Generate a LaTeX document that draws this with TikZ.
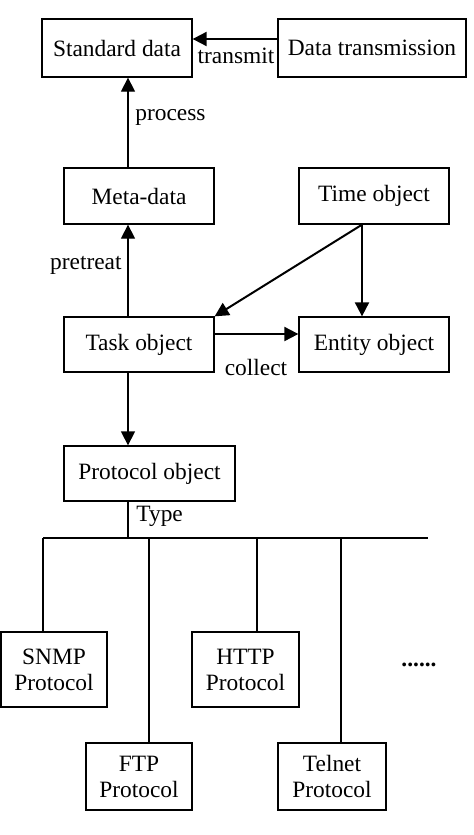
\documentclass[tikz,border=0pt]{standalone}
\usepackage{fontspec}
\setmainfont{Liberation Serif}
\usepackage{tikz}
\usetikzlibrary{arrows.meta}

\begin{document}
\begin{tikzpicture}[x=0.5pt,y=-0.5pt,
  box/.style={draw,line width=0.65pt,inner sep=0pt,align=center,font=\fontsize{11.7}{13}\selectfont},
  lbl/.style={inner sep=0pt,font=\fontsize{11.7}{13}\selectfont},
  thin/.style={line width=0.65pt},
  thick arrow/.style={line width=1pt,-{Triangle[length=7pt,width=7pt]}},
  thin arrow/.style={line width=0.65pt,-{Triangle[length=7pt,width=7pt]}}]
\useasboundingbox (0,0) rectangle (474,835);

\node[box,minimum width=75pt,minimum height=29pt] (std) at (117,48) {Standard data};
\node[box,minimum width=94pt,minimum height=29pt] (trans) at (372,48) {Data transmission};
\node[box,minimum width=75pt,minimum height=28pt] (meta) at (139,196) {Meta-data};
\node[box,minimum width=75pt,minimum height=28pt] (time) at (374,196) {Time object};
\node[box,minimum width=75pt,minimum height=27.5pt] (task) at (139,344.5) {Task object};
\node[box,minimum width=75pt,minimum height=27.5pt] (entity) at (374,344.5) {Entity object};
\node[box,minimum width=85.5pt,minimum height=27.5pt] (proto) at (149.5,473.5) {Protocol object};

\node[box,minimum width=53pt,minimum height=37.5pt] (snmp) at (54,669.5) {SNMP\\Protocol};
\node[box,minimum width=53.5pt,minimum height=37.5pt] (http) at (245.5,669.5) {HTTP\\Protocol};
\node[box,minimum width=53pt,minimum height=33.5pt] (ftp) at (139,776.5) {FTP\\Protocol};
\node[box,minimum width=54pt,minimum height=33.5pt] (telnet) at (332,776.5) {Telnet\\Protocol};

% vertical spine and bus
\coordinate (spine) at (128,0);
\coordinate (busL) at (43,538);
\coordinate (busR) at (428,538);
\coordinate (dftp) at (149,538);
\coordinate (dhttp) at (257,538);
\coordinate (dtelnet) at (341,538);
\coordinate (tfork) at ([xshift=-6pt]time.south);

\draw[thick arrow] ([yshift=4.5pt]trans.west) -- ([yshift=4.5pt]std.east);
\node[lbl] (ltransmit) at (236,56) {transmit};

\draw[thin arrow] (meta.north -| spine) -- (std.south -| spine);
\node[lbl,anchor=west] (lprocess) at (135,117) {process};

\draw[thin arrow] (task.north -| spine) -- (meta.south -| spine);
\node[lbl,anchor=east] (lpretreat) at (122,265) {pretreat};

\draw[thick arrow] (tfork) -- (task.north east);
\draw[thick arrow] (tfork) -- (tfork |- entity.north);

\draw[thick arrow] ([yshift=5.25pt]task.east) -- ([yshift=5.25pt]entity.west);
\node[lbl] (lcollect) at (256,367) {collect};

\draw[thin arrow] (task.south -| spine) -- (proto.north -| spine);

\draw[thin] (proto.south -| spine) -- (spine |- busL);
\node[lbl,anchor=west] (ltype) at (136,516) {Type};
\draw[thin] (busL) -- (busR);

\draw[thin] (busL) -- (busL |- snmp.north);
\draw[thin] (dftp) -- (dftp |- ftp.north);
\draw[thin] (dhttp) -- (dhttp |- http.north);
\draw[thin] (dtelnet) -- (dtelnet |- telnet.north);

\node[lbl] (ldots) at (419,665) {\textbf{......}};
\end{tikzpicture}
\end{document}
